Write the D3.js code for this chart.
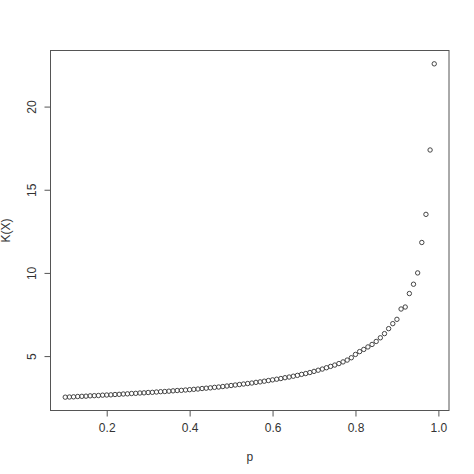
<!DOCTYPE html>
<html>
<head>
<meta charset="utf-8">
<script src="https://cdn.jsdelivr.net/npm/d3@7"></script>
<style>
  body { margin: 0; background: #fff; }
  text { font-family: "Liberation Sans", Arial, sans-serif; fill: #333; }
</style>
</head>
<body>
<div id="chart"></div>
<script>

// p values on the x axis
var pValues = [0.10, 0.11, 0.12, 0.13, 0.14, 0.15, 0.16, 0.17, 0.18, 0.19,
               0.20, 0.21, 0.22, 0.23, 0.24, 0.25, 0.26, 0.27, 0.28, 0.29,
               0.30, 0.31, 0.32, 0.33, 0.34, 0.35, 0.36, 0.37, 0.38, 0.39,
               0.40, 0.41, 0.42, 0.43, 0.44, 0.45, 0.46, 0.47, 0.48, 0.49,
               0.50, 0.51, 0.52, 0.53, 0.54, 0.55, 0.56, 0.57, 0.58, 0.59,
               0.60, 0.61, 0.62, 0.63, 0.64, 0.65, 0.66, 0.67, 0.68, 0.69,
               0.70, 0.71, 0.72, 0.73, 0.74, 0.75, 0.76, 0.77, 0.78, 0.79,
               0.80, 0.81, 0.82, 0.83, 0.84, 0.85, 0.86, 0.87, 0.88, 0.89,
               0.90, 0.91, 0.92, 0.93, 0.94, 0.95, 0.96, 0.97, 0.98, 0.99];

// K(X)
var kValues = [2.53, 2.54, 2.55, 2.57, 2.58, 2.59, 2.61, 2.62, 2.63, 2.65,
               2.66, 2.67, 2.69, 2.70, 2.72, 2.73, 2.75, 2.76, 2.78, 2.79,
               2.81, 2.82, 2.84, 2.86, 2.87, 2.89, 2.91, 2.93, 2.94, 2.96,
               2.98, 3.00, 3.02, 3.05, 3.07, 3.09, 3.12, 3.14, 3.17, 3.20,
               3.23, 3.26, 3.29, 3.32, 3.35, 3.38, 3.42, 3.45, 3.49, 3.53,
               3.57, 3.61, 3.65, 3.70, 3.74, 3.79, 3.84, 3.90, 3.95, 4.01,
               4.08, 4.15, 4.22, 4.30, 4.38, 4.46, 4.55, 4.65, 4.76, 4.90,
               5.10, 5.27, 5.40, 5.55, 5.70, 5.88, 6.10, 6.35, 6.65, 6.95,
               7.21, 7.83, 7.95, 8.76, 9.32, 10.00, 11.83, 13.52, 17.39, 22.57];

var xTicks = [0.2, 0.4, 0.6, 0.8, 1.0];
var yTicks = [5, 10, 15, 20];

var margin = {top: 50.5, right: 25, bottom: 63.5, left: 50.5},
    width = 474 - margin.left - margin.right,
    height = 474 - margin.top - margin.bottom;

// R style 4% padding around the data range
function padded(vals) {
  var ext = d3.extent(vals), d = (ext[1] - ext[0]) * 0.04;
  return [ext[0] - d, ext[1] + d];
}

var x = d3.scaleLinear().domain(padded(pValues)).range([0, width]);
var y = d3.scaleLinear().domain(padded(kValues)).range([height, 0]);

var svg = d3.select("#chart").append("svg")
    .attr("width", 474)
    .attr("height", 474)
  .append("g")
    .attr("transform", "translate(" + margin.left + "," + margin.top + ")");

var xAxis = d3.axisBottom(x)
    .tickValues(xTicks)
    .tickSize(6)
    .tickPadding(7)
    .tickFormat(d3.format(".1f"));

var yAxis = d3.axisLeft(y)
    .tickValues(yTicks)
    .tickSize(6);

var gx = svg.append("g")
    .attr("transform", "translate(0," + height + ")")
    .call(xAxis);

var gy = svg.append("g")
    .call(yAxis);

// axis line only between first and last tick, like base R
gx.select(".domain").attr("d", "M" + x(xTicks[0]) + ",0H" + x(xTicks[xTicks.length - 1]));
gy.select(".domain").attr("d", "M0," + y(yTicks[0]) + "V" + y(yTicks[yTicks.length - 1]));

svg.selectAll(".domain, .tick line").attr("stroke", "#555");
svg.selectAll(".tick text").style("font-size", "12px");

// rotate y tick labels
gy.selectAll(".tick text")
    .attr("transform", "rotate(-90,-19,0)")
    .attr("x", -19)
    .attr("dy", "0.35em")
    .style("text-anchor", "middle");

// box
svg.append("rect")
    .attr("width", width)
    .attr("height", height)
    .attr("fill", "none")
    .attr("stroke", "#555")
    .attr("stroke-width", 1);

// points
svg.selectAll(".dot")
    .data(pValues)
  .enter().append("circle")
    .attr("class", "dot")
    .attr("r", 2.2)
    .attr("cx", function(d) { return x(d); })
    .attr("cy", function(d, i) { return y(kValues[i]); })
    .attr("fill", "none")
    .attr("stroke", "#444")
    .attr("stroke-width", 1);

// axis titles
svg.append("text")
    .attr("x", width / 2)
    .attr("y", height + 50)
    .style("font-size", "12px")
    .style("text-anchor", "middle")
    .text("p");

svg.append("text")
    .attr("transform", "translate(" + (-41) + "," + (height / 2) + ") rotate(-90)")
    .style("font-size", "12px")
    .style("text-anchor", "middle")
    .text("K(X)");

</script>
</body>
</html>
